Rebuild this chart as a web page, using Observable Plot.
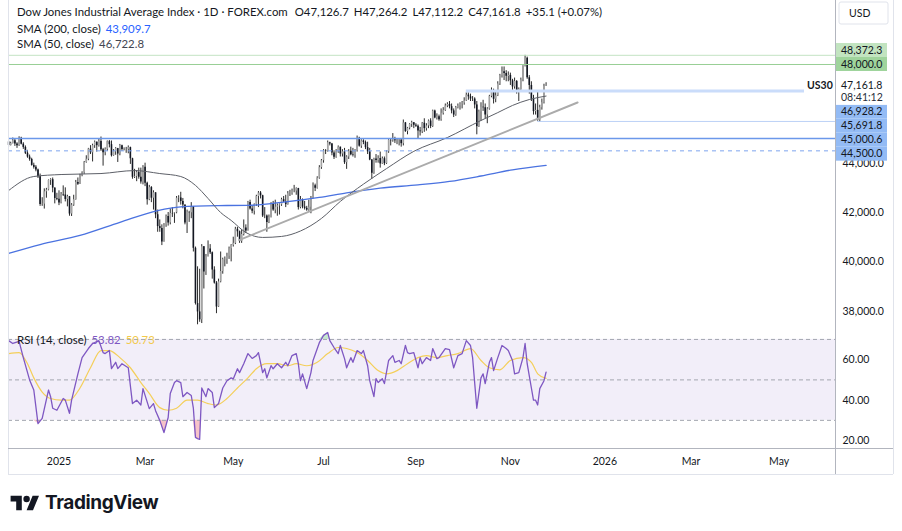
<!DOCTYPE html>
<html>
<head>
<meta charset="utf-8">
<script src="https://cdn.jsdelivr.net/npm/d3@7"></script>
<script src="https://cdn.jsdelivr.net/npm/@observablehq/plot@0.6"></script>
<style>
  html,body{margin:0;padding:0;background:#fff;}
  #wrap{position:relative;width:902px;height:531px;overflow:hidden;font-family:Lato,"Noto Sans",sans-serif;color:#131722;}
  #price{position:absolute;left:0;top:0;}
  #rsi{position:absolute;left:0;top:328px;}
  .ln{position:absolute;}
  .leg{position:absolute;left:17px;font-size:11.4px;white-space:nowrap;line-height:14px;color:#131722;}
  .leg span{margin-left:5px;}
  #logo{position:absolute;left:10px;top:491px;display:flex;align-items:center;}
  #logo span{font-family:Inter,Roboto,sans-serif;font-weight:700;font-size:19px;color:#131722;margin-left:5px;letter-spacing:-0.4px;}
</style>
</head>
<body>
<div id="wrap">
  <div id="price"></div>
  <div id="rsi"></div>
  <div class="ln" style="left:8px;top:0;width:1px;height:474px;background:#e0e3eb"></div>
  <div class="ln" style="left:835px;top:0;width:1px;height:474px;background:#b2b5be"></div>
  <div class="ln" style="left:8px;top:448px;width:885px;height:1px;background:#b2b5be"></div>
  <div class="ln" style="left:8px;top:474px;width:885px;height:1px;background:#e0e3eb"></div>
  <div class="ln" style="left:893px;top:0;width:1px;height:474px;background:#e0e3eb"></div>
  <div class="leg" id="l1" style="top:5px"></div>
  <div class="leg" id="l2" style="top:22px"></div>
  <div class="leg" id="l3" style="top:37px"></div>
  <div class="leg" id="l4" style="top:333px"></div>
  <div id="logo">
    <svg width="30" height="16" viewBox="0 3 36 20"><path fill="#131722" d="M14 22H7V11H0V4h14v18zM28 22h-8l7.5-18h8L28 22z"/><circle fill="#131722" cx="20" cy="8" r="4"/></svg>
    <span>TradingView</span>
  </div>
</div>
<script>
// ---------------- data ----------------
const title = "Dow Jones Industrial Average Index · 1D · FOREX.com";
const lastOHLC = [47126.7, 47264.2, 47112.2, 47161.8];
const lastChange = 35.1, lastChangePct = 0.07;
const sma200Last = 43909.7, sma50Last = 46722.8;
const rsiLast = 53.82, rsiMaLast = 50.73;
const countdown = "08:41:12", symbol = "US30", currency = "USD";

// daily bars, index 0 = late Nov 2024 ... 256 = 26 Nov 2025
const open = [
44860,44720,44800,44910,44780,44710,45010,44770,44640,44400,
44250,44150,43910,43830,43720,43450,42330,42340,42840,42910,
43300,43330,42990,42570,42540,42390,42730,42710,42530,42640,
41940,42300,42520,43220,43150,43490,43600,44030,44160,44570,
44420,44710,44850,44710,44880,44540,44420,44560,44870,44750,
44300,44470,44590,44370,44710,44550,44560,44560,44630,44180,
43430,43460,43620,43430,43240,43840,43190,42520,43010,42580,
42800,41910,41430,41350,40810,41490,41840,41580,41960,41950,
41990,42580,42590,42450,42300,41580,42000,41990,42230,40550,
38310,37970,37650,40610,39590,40210,40520,40370,39670,39140,
38170,39190,39610,40090,40110,40230,40530,40670,40750,41320,
41220,40830,41110,41370,41250,42410,42140,42050,42320,42650,
42790,42680,41860,41860,41600,41800,42340,42100,42220,42270,
42310,42520,42430,42320,42760,42760,42870,42870,42970,42200,
42520,42220,42170,42100,42210,42580,43090,42980,43390,43820,
44100,44500,44480,44830,44780,44410,44240,44460,44650,44370,
44460,44020,44250,44480,44340,44320,44500,45010,44690,44900,
44840,44630,44460,44130,43590,44170,44110,44190,43970,44180,
43980,44460,44920,44910,44950,44910,44920,44940,44790,45630,
45280,45420,45570,45640,45540,45500,45300,45270,45620,45400,
45510,45710,45490,46110,45830,45880,45760,46020,46140,46320,
46380,46290,46120,45950,46250,46320,46400,46440,46520,46760,
46690,46600,46600,46360,45480,46070,46270,46250,45950,46190,
46710,46920,46590,46730,47210,47540,47710,47630,47520,47560,
47340,47090,47310,46910,46990,47370,47930,48250,47460,47150,
46590,46090,46140,45750,46250,46450,47130];
const high = [
44900,44850,45020,44960,44830,45070,45050,44830,44700,44520,
44330,44200,44000,43900,43760,43560,42600,42960,42980,43320,
43370,43400,43000,42780,42880,42810,43080,43000,42700,42650,
42360,42700,43300,43400,43550,43650,44070,44300,44600,44710,
44770,44900,44860,44970,45060,44600,44620,44900,44920,44900,
44550,44630,44600,44760,44730,44620,44640,44700,44650,44200,
43750,43700,43800,43800,43900,44000,43230,43100,43050,42880,
42800,42100,41700,41500,41550,41900,42000,42150,42200,42000,
42650,42680,42820,42570,42300,42100,42050,42400,42240,40600,
39800,39700,40700,40620,40300,40850,40700,40400,39800,39200,
39300,40400,40150,40200,40350,40600,40700,41000,41400,41400,
41250,41300,41700,41500,42450,42500,42250,42350,42700,42850,
42850,42700,42200,41900,41900,42400,42450,42500,42350,42350,
42580,42650,42700,42850,42900,42950,43100,43000,42980,42650,
42550,42450,42250,42500,42650,43200,43150,43450,43900,44150,
44550,44550,44900,44850,44800,44500,44550,44700,44650,44550,
44600,44300,44550,44650,44600,44550,45100,45050,44950,44950,
44900,44850,44600,44150,44200,44350,44300,44450,44250,44250,
44500,44950,44980,45200,45050,45000,45000,44950,45750,45650,
45450,45600,45700,45650,45600,45550,45450,45650,45800,45600,
45750,45800,46150,46150,46000,45950,46200,46250,46400,46450,
46500,46400,46200,46300,46400,46450,46500,46650,46850,46850,
46800,46700,46650,46500,46150,46450,46550,46400,46250,46750,
47050,47000,46900,47300,47600,47900,47900,47750,47700,47650,
47400,47450,47350,47050,47450,47950,48370,48300,47550,47300,
46750,46400,46900,46350,46600,47200,47260];
const low = [
44650,44700,44780,44680,44600,44680,44740,44560,44350,44200,
44080,43880,43760,43650,43380,42250,42250,42140,42580,42880,
43100,42800,42350,42480,42280,42350,42650,42430,42230,41850,
41840,42250,42500,43100,43140,43450,43550,44000,44100,44350,
44050,44600,44450,44650,44480,43880,44300,44480,44620,44250,
44280,44320,44030,44300,44480,44500,44400,44380,43950,43350,
43380,43250,43350,43150,43120,43050,42300,42480,42400,42100,
41750,41200,41200,40660,40800,41400,41450,41500,41800,41560,
41950,42400,42300,42150,41500,41150,41600,41750,40400,38250,
37450,37550,37500,38900,39450,40200,40300,39300,39100,37900,
38150,39150,39500,39800,39900,40100,40000,40600,40700,41000,
40750,40750,41050,41150,41250,42100,41950,41900,42250,42200,
42550,41800,41750,41200,41550,41780,42050,41950,41850,41900,
42250,42400,42200,42300,42650,42700,42800,42700,42100,42150,
42150,42100,42050,42050,41950,42550,42850,42950,43350,43750,
44000,44350,44450,44700,44300,44150,44200,44400,44250,44250,
43950,43750,44150,44300,44250,44200,44450,44650,44600,44750,
44550,44350,44100,43350,43550,44000,44000,43800,43950,43900,
43950,44400,44700,44850,44800,44750,44700,44650,44700,45250,
45150,45350,45450,45400,45450,45000,45100,45200,45250,45300,
45400,45400,45450,45800,45750,45700,45700,45950,46100,46250,
46200,46000,45850,45900,46200,46150,46200,46350,46500,46550,
46500,46500,46200,45150,45450,45700,46100,45800,45600,46150,
46650,46400,46450,46700,47150,47450,47350,47300,47300,47150,
46950,47000,46800,46500,46950,47300,47900,47400,46800,46500,
45950,45950,45700,45650,46150,46400,47110];
const close = [
44720,44800,44910,44780,44710,45010,44770,44640,44400,44250,
44150,43910,43830,43720,43450,42330,42340,42840,42910,43300,
43330,42990,42570,42540,42390,42730,42710,42530,42640,41940,
42300,42520,43220,43150,43490,43600,44030,44160,44570,44420,
44710,44850,44710,44880,44540,44420,44560,44870,44750,44300,
44470,44590,44370,44710,44550,44560,44560,44630,44180,43430,
43460,43620,43430,43240,43840,43190,42520,43010,42580,42800,
41910,41430,41350,40810,41490,41840,41580,41960,41950,41990,
42580,42590,42450,42300,41580,42000,41990,42230,40550,38310,
37970,37650,40610,39590,40210,40520,40370,39670,39140,38170,
39190,39610,40090,40110,40230,40530,40670,40750,41320,41220,
40830,41110,41370,41250,42410,42140,42050,42320,42650,42790,
42680,41860,41860,41600,41800,42340,42100,42220,42270,42310,
42520,42430,42320,42760,42760,42870,42870,42970,42200,42520,
42220,42170,42100,42210,42580,43090,42980,43390,43820,44100,
44500,44480,44830,44780,44410,44240,44460,44650,44370,44460,
44020,44250,44480,44340,44320,44500,45010,44690,44900,44840,
44630,44460,44130,43590,44170,44110,44190,43970,44180,43980,
44460,44920,44910,44950,44910,44920,44940,44790,45630,45280,
45420,45570,45640,45540,45500,45300,45270,45620,45400,45510,
45710,45490,46110,45830,45880,45760,46020,46140,46320,46380,
46290,46120,45950,46250,46320,46400,46440,46520,46760,46690,
46600,46600,46360,45480,46070,46270,46250,45950,46190,46710,
46920,46590,46730,47210,47540,47710,47630,47520,47560,47340,
47090,47310,46910,46990,47370,47930,48250,47460,47150,46590,
46090,46140,45750,46250,46450,47110,47160];

// moving averages: [bar, value]
const sma200 = [[0,40340],[15,40700],[34,41070],[53,41600],[71,42080],[82,42230],[100,42280],[114,42290],[130,42410],[148,42610],[161,42800],[177,42990],[195,43120],[210,43260],[225,43480],[240,43730],[256,43910]];
const sma50 = [[0,42890],[12,43460],[25,43540],[44,43580],[60,43700],[72,43580],[82,43460],[89,43100],[95,42570],[101,42000],[106,41680],[113,41190],[121,40990],[130,41030],[139,41250],[149,41760],[158,42450],[169,43150],[180,43780],[193,44480],[209,45040],[225,45730],[233,46050],[240,46340],[248,46580],[256,46720]];

// RSI(14) and its moving average: [bar, value]
const rsi = [[0,69.4],[2,68],[5,69],[7,61],[10,50],[12,45],[14,28.4],[16,31],[19,45],[20,41.7],[21,36],[23,35],[26,40.8],[27,40],[29,33.5],[30,40],[33,53],[35,61],[38,65.5],[40,68],[43,69.4],[45,63.5],[46,63],[48,64.5],[49,55.6],[51,58.7],[52,55.6],[54,58],[57,56],[59,38.3],[61,40],[63,37.6],[64,45.7],[67,35.8],[69,38.3],[70,34.8],[72,30],[74,24],[76,31.4],[77,43.3],[79,48.7],[80,49.6],[82,48.7],[83,41.7],[85,43.8],[87,42.3],[88,36],[89,21.6],[90,21],[91,20.6],[92,46],[94,41.7],[95,45.7],[97,43.8],[98,36.3],[100,38.3],[102,46],[104,49.6],[106,51],[107,50.5],[109,55.5],[110,53.6],[112,58],[114,63],[116,60.6],[118,62],[119,63.5],[121,53.6],[122,55.5],[123,51],[125,57],[126,55.5],[128,58],[130,56],[132,58.7],[133,57],[135,62],[137,63],[138,58],[139,49.6],[140,53],[142,45.7],[144,53.6],[145,59.6],[148,68.4],[150,72],[152,73.4],[153,69.4],[155,66],[157,63],[158,67],[160,60.5],[161,56],[163,61],[164,58.7],[166,64.5],[168,63],[169,64.5],[171,57],[172,49.6],[174,41.7],[175,50.6],[176,48.7],[178,50.6],[179,48.2],[181,59.6],[183,62],[184,58.7],[186,59.6],[187,58],[189,67],[190,63.5],[191,63],[193,63.5],[195,56],[196,61],[197,58],[199,61],[201,59.6],[202,65.5],[204,60.5],[205,61],[208,65.5],[210,65],[212,56],[214,62],[216,63],[218,69.4],[220,67],[221,61],[223,36],[225,51],[226,53],[227,48.2],[229,58.7],[230,61],[231,54.6],[233,61],[235,67],[237,65.5],[238,64.5],[240,59.6],[241,53],[243,53.6],[245,61],[246,68],[247,58],[249,46],[250,40],[251,40],[252,37.6],[253,45.7],[255,49.6],[256,53.82]];
const rsiMa = [[0,63],[5,63.5],[9,58],[12,51],[16,44],[20,40.8],[25,40],[29,40],[34,46],[39,56],[44,64.5],[48,64.5],[53,61],[58,56],[63,48.7],[67,43.3],[72,36.3],[76,35],[80,36],[85,40],[90,40],[95,38.3],[99,37.6],[104,40.8],[109,46],[114,51],[118,55.5],[123,58],[128,58],[133,57],[137,58],[142,57],[147,58.7],[152,63],[157,66],[161,65.5],[166,63.5],[171,59.6],[176,54.6],[180,53],[185,54.6],[190,58],[195,61],[199,62],[204,61],[209,62],[214,63],[220,65.5],[225,59.6],[229,56],[234,55],[239,59.6],[245,61],[249,58.7],[252,53],[256,50.73]];
const rsiLevels = [70, 50, 30];

// drawings
const levelPrices = [48372.3, 48000.0, 46928.2, 45691.8, 45000.6, 44500.0];
const levelFromBar = [null, null, 218, 252, null, null];
const trendBars = [110, 271];
const trendPrices = [40890, 46460];

// axes
const tickBars = [24, 65, 107, 150, 194, 239, 284, 325, 367];
const tickLabels = ["2025", "Mar", "May", "Jul", "Sep", "Nov", "2026", "Mar", "May"];
const priceTicks = [38000, 40000, 42000, 44000];
const rsiTicks = [20, 40, 60];

// ---------------- presentation ----------------
const FONT = "Lato, 'Noto Sans', sans-serif";
const W = 893;
const xDomain = [-0.05, 393.85];
const levelLook = [
  {stroke: "#c4e3c3", width: 1,   dash: null,  box: "#c2e4c0"},
  {stroke: "#98cf95", width: 1,   dash: null,  box: "#9fd49c"},
  {stroke: "#cadcfa", width: 3,   dash: null,  box: "#93bbf5"},
  {stroke: "#bcd1f6", width: 1,   dash: null,  box: "#93bbf5"},
  {stroke: "#6b98ea", width: 1.6, dash: null,  box: "#93bbf5"},
  {stroke: "#7ea4ee", width: 1,   dash: "4,4", box: "#93bbf5"}
];
const fmt1 = d3.format(",.1f");

const bars = close.map((c, i) => ({i, o: open[i], h: high[i], l: low[i], c}));
const up = bars.filter(d => d.c >= d.o);
const down = bars.filter(d => d.c < d.o);
const asXY = arr => arr.map(([i, v]) => ({i, v}));

const levelMarks = levelPrices.map((p, k) => Plot.ruleY([p], {
  y: d => d,
  x1: () => levelFromBar[k] == null ? xDomain[0] : levelFromBar[k],
  x2: () => xDomain[1],
  stroke: levelLook[k].stroke,
  strokeWidth: levelLook[k].width,
  strokeDasharray: levelLook[k].dash
}));

const pricePlot = Plot.plot({
  width: W, height: 328,
  marginLeft: 8, marginRight: 58, marginTop: 0, marginBottom: 0,
  style: {fontFamily: FONT, fontSize: "10.5px", color: "#131722", background: "transparent"},
  x: {domain: xDomain, axis: null},
  y: {domain: [37299, 50594], axis: "right", ticks: priceTicks, tickFormat: ",.1f", tickSize: 0, tickPadding: 7, label: null},
  marks: [
    Plot.ruleX(bars, {x: "i", y1: "l", y2: "h", stroke: "#2b2b2b", strokeWidth: 1}),
    Plot.ruleX(up, {x: "i", y1: "o", y2: "c", stroke: "#a4a4a4", strokeWidth: 1.6}),
    Plot.ruleX(down, {x: "i", y1: "o", y2: "c", stroke: "#131722", strokeWidth: 1.6}),
    Plot.line(asXY(sma200), {x: "i", y: "v", stroke: "#4a72e0", strokeWidth: 1.3, curve: "monotone-x"}),
    Plot.line(asXY(sma50), {x: "i", y: "v", stroke: "#5d6068", strokeWidth: 1, curve: "monotone-x"}),
    ...levelMarks,
    Plot.line(trendBars.map((b, k) => ({i: b, v: trendPrices[k]})), {x: "i", y: "v", stroke: "#ababab", strokeWidth: 2})
  ]
});
document.getElementById("price").appendChild(pricePlot);

// right price-scale labels, positioned with the plot's own y scale
(function () {
  const y = pricePlot.scale("y");
  const g = d3.select(pricePlot).append("g")
    .attr("font-family", FONT).attr("font-size", 10.5).attr("fill", "#131722").attr("text-anchor", "start");
  const H = 14, X0 = 836, BW = 51, TX = 841;
  const last = lastOHLC[3];
  const yc = y.apply(last);
  const items = levelPrices.map((p, k) => ({p, k, ny: y.apply(p)}));
  const above = items.filter(d => d.p > last).sort((a, b) => b.ny - a.ny);
  let lim = yc - 7;
  for (const d of above) { d.cy = Math.min(d.ny, lim - H / 2); lim = d.cy - H / 2; }
  const below = items.filter(d => d.p <= last).sort((a, b) => a.ny - b.ny);
  lim = yc + 20;
  for (const d of below) { d.cy = Math.max(d.ny, lim + H / 2); lim = d.cy + H / 2; }
  for (const d of items) {
    g.append("rect").attr("x", X0).attr("y", d.cy - H / 2).attr("width", BW).attr("height", H).attr("fill", levelLook[d.k].box);
    g.append("text").attr("x", TX).attr("y", d.cy).attr("dy", "0.35em").text(fmt1(d.p));
  }
  g.append("rect").attr("x", X0).attr("y", yc - 7).attr("width", BW).attr("height", 27).attr("fill", "#fff");
  g.append("text").attr("x", TX).attr("y", yc + 1).attr("dy", "0.35em").text(fmt1(last));
  g.append("text").attr("x", TX).attr("y", yc + 13).attr("dy", "0.35em").attr("fill", "#2a2e39").text(countdown);
  g.append("rect").attr("x", 804).attr("y", yc - 7).attr("width", 31).attr("height", 16).attr("fill", "#fff");
  g.append("text").attr("x", 807).attr("y", yc + 1).attr("dy", "0.35em").attr("font-weight", 700).text(symbol);
  g.append("rect").attr("x", 839).attr("y", 2).attr("width", 49).attr("height", 22).attr("rx", 2).attr("fill", "#fff").attr("stroke", "#e0e3eb");
  g.append("text").attr("x", 849).attr("y", 13).attr("dy", "0.35em").text(currency);
})();

const rsiPts = asXY(rsi);
const rsiPlot = Plot.plot({
  width: W, height: 146,
  marginLeft: 8, marginRight: 58, marginTop: 0, marginBottom: 26,
  style: {fontFamily: FONT, fontSize: "10.5px", color: "#131722", background: "transparent"},
  x: {domain: xDomain, axis: "bottom", ticks: tickBars, tickFormat: d => tickLabels[tickBars.indexOf(d)], tickSize: 0, tickPadding: 9, label: null},
  y: {domain: [16.1, 75.4], axis: "right", ticks: rsiTicks, tickFormat: ".2f", tickSize: 0, tickPadding: 7, label: null},
  marks: [
    Plot.rect([rsiLevels], {x1: () => xDomain[0], x2: () => xDomain[1], y1: d => d[2], y2: d => d[0], fill: "#f2eef9"}),
    Plot.areaY(rsiPts, {x: "i", y1: () => rsiLevels[2], y2: d => Math.min(d.v, rsiLevels[2]), fill: "#f6c3c8"}),
    Plot.areaY(rsiPts, {x: "i", y1: () => rsiLevels[0], y2: d => Math.max(d.v, rsiLevels[0]), fill: "#c6e8cf"}),
    Plot.ruleY(rsiLevels, {stroke: "#a3a6af", strokeDasharray: "4,3", strokeWidth: 1}),
    Plot.line(asXY(rsiMa), {x: "i", y: "v", stroke: "#f4cf5a", strokeWidth: 1.2, curve: "monotone-x"}),
    Plot.line(rsiPts, {x: "i", y: "v", stroke: "#7e57c2", strokeWidth: 1.3})
  ]
});
document.getElementById("rsi").appendChild(rsiPlot);

// legends
document.getElementById("l1").innerHTML = `${title}<span style="margin-left:7px">O${fmt1(lastOHLC[0])}</span><span>H${fmt1(lastOHLC[1])}</span><span>L${fmt1(lastOHLC[2])}</span><span>C${fmt1(lastOHLC[3])}</span><span>+${lastChange} (+${lastChangePct.toFixed(2)}%)</span>`;
document.getElementById("l2").innerHTML = `SMA (200, close)<span style="color:#2962ff">${fmt1(sma200Last)}</span>`;
document.getElementById("l3").innerHTML = `SMA (50, close)<span style="color:#434651">${fmt1(sma50Last)}</span>`;
document.getElementById("l4").innerHTML = `RSI (14, close)<span style="color:#7e57c2">${rsiLast.toFixed(2)}</span><span style="color:#f2c94c">${rsiMaLast.toFixed(2)}</span>`;
</script>
</body>
</html>
